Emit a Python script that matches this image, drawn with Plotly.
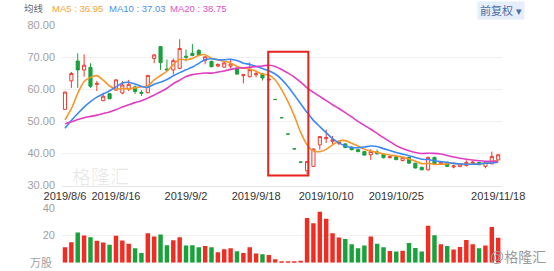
import pandas as pd
import plotly.graph_objects as go

# ---------------- data ----------------
holidays = ["2019-09-13", "2019-10-01", "2019-10-02", "2019-10-03", "2019-10-04", "2019-10-07"]
trade_days = [d for d in pd.bdate_range("2019-08-06", "2019-11-18") if d.strftime("%Y-%m-%d") not in holidays]
dates = [f"{d.year}/{d.month}/{d.day}" for d in trade_days]

open_ = [53.8, 62.7, 68.9, 66.1, 66.9, 61.6, 56.5, 58.7, 59.8, 58.9,
         60.1, 60.8, 59.1, 59.0, 69.7, 73.4, 66.4, 66.1, 66.6, 70.4,
         71.3, 72.2, 69.0, 68.8, 67.3, 67.0, 67.3, 66.6, 64.3, 64.0,
         64.6, 64.9, 63.0, 56.88, 51.19, 46.07, 41.46, 37.32, 34.6, 36.0,
         42.7, 44.6, 43.8, 43.2, 43.0, 42.0, 41.2, 40.6, 39.6, 40.5,
         39.8, 38.7, 39.0, 37.8, 38.8, 37.0, 35.7, 34.9, 38.8, 36.9,
         37.3, 35.8, 35.9, 36.2, 36.9, 37.2, 36.0, 36.8, 38.0]
high = [59.3, 65.5, 71.3, 71.0, 68.2, 62.7, 59.0, 58.9, 63.2, 62.7,
        63.0, 61.3, 59.8, 64.5, 71.0, 73.6, 69.4, 69.7, 75.7, 72.5,
        74.2, 72.6, 70.4, 69.0, 68.2, 68.8, 69.4, 66.8, 64.9, 68.5,
        65.9, 65.2, 63.8, 56.88, 51.19, 46.07, 41.46, 37.32, 37.6, 41.6,
        45.5, 47.5, 45.5, 44.0, 43.2, 42.2, 41.4, 40.8, 41.4, 41.2,
        40.0, 39.4, 39.2, 38.9, 39.0, 37.1, 35.8, 39.0, 39.0, 37.6,
        37.4, 36.5, 36.9, 37.9, 37.7, 37.4, 37.4, 40.6, 39.8]
low = [53.6, 60.5, 60.5, 64.0, 60.5, 59.5, 56.4, 57.0, 59.6, 58.5,
       59.5, 58.6, 58.0, 58.8, 68.2, 66.1, 65.9, 64.7, 66.3, 68.8,
       70.4, 70.4, 67.9, 67.0, 67.0, 66.8, 66.6, 64.6, 61.9, 63.8,
       63.8, 62.8, 62.5, 56.88, 51.19, 46.07, 41.46, 37.32, 33.6, 35.8,
       41.2, 43.3, 42.8, 42.6, 41.7, 41.0, 40.4, 39.4, 38.0, 39.7,
       38.5, 38.5, 37.9, 37.6, 36.9, 35.3, 34.8, 34.7, 36.6, 36.6,
       35.9, 35.4, 35.8, 36.0, 36.7, 36.4, 35.4, 36.6, 37.9]
close = [59.2, 65.0, 66.1, 67.6, 61.0, 61.9, 57.9, 57.1, 63.0, 61.4,
         61.6, 59.4, 58.8, 64.4, 70.8, 68.4, 66.1, 69.0, 72.8, 70.1,
         70.6, 70.7, 70.2, 67.1, 67.8, 68.3, 68.0, 64.8, 64.6, 66.2,
         64.9, 63.6, 63.2, 56.88, 51.19, 46.07, 41.46, 37.32, 37.5, 41.4,
         45.3, 45.0, 44.3, 43.6, 41.9, 41.2, 40.6, 39.5, 40.6, 39.9,
         38.7, 39.0, 38.1, 38.7, 37.0, 35.5, 34.9, 38.8, 36.8, 37.3,
         36.0, 36.1, 36.7, 37.2, 37.3, 36.5, 37.2, 39.1, 39.6]
volume = [11.4, 15.1, 22.2, 20.0, 18.8, 16.1, 14.8, 13.3, 19.8, 16.3,
          13.9, 10.7, 7.2, 21.8, 19.3, 20.7, 12.9, 16.6, 18.8, 12.6,
          12.9, 11.4, 12.4, 11.4, 7.7, 9.9, 10.7, 8.4, 7.2, 11.4,
          6.7, 6.2, 5.7, 2.5, 0.7, 0.5, 0.5, 1.5, 32.9, 29.0,
          37.5, 32.4, 21.8, 18.5, 17.5, 13.6, 10.7, 12.6, 19.4, 13.9,
          11.4, 8.6, 8.2, 8.9, 14.5, 10.8, 8.2, 27.2, 20.3, 13.6,
          12.3, 9.7, 11.6, 16.7, 13.6, 10.7, 12.7, 26.3, 18.4]

# moving-average values for days whose window starts before 2019/8/6
ma5_head = [50.5, 54.0, 58.8, 62.5]
ma10_head = [47.9, 50.3, 52.5, 54.5, 56.2, 57.6, 58.6, 59.6, 60.8]
ma20_head = [49.3, 49.9, 50.6, 51.2, 51.6, 52.0, 52.5, 53.0, 53.7, 54.5,
             55.2, 55.9, 56.5, 57.3, 58.3, 59.3, 60.4, 61.8, 62.9]

tick_dates = ["2019/8/6", "2019/8/16", "2019/9/2", "2019/9/18", "2019/10/10", "2019/10/25", "2019/11/18"]
legend_items = [("均线", "#666666"), ("MA5 : 36.95", "#f7a238"), ("MA10 : 37.03", "#4a8ff2"), ("MA20 : 38.75", "#e04fc6")]
price_ticks = [30, 40, 50, 60, 70, 80]
vol_ticks = [20, 40]
highlight = dict(start="2019/9/20", end="2019/9/30", low=33.1, high=71.8)

# ---------------- helpers ----------------
W, H = 554, 271
ML, MR = 62, 52
PW = W - ML - MR
RED, GREEN = "#ee3a2f", "#1aa03c"
VRED, VGREEN = "#f02d22", "#18a23a"


def px_x(px):
    return (px - ML) / PW


def px_y(py):
    return (H - py) / H


def rolling(vals, n, head):
    out = list(head)
    for i in range(len(head), len(vals)):
        out.append(sum(vals[i - n + 1:i + 1]) / n)
    return out


n = len(close)
idx = list(range(n))


def is_up(i):
    if close[i] > open_[i]:
        return True
    if close[i] < open_[i]:
        return False
    return i == 0 or close[i] >= close[i - 1]


up = [i for i in idx if is_up(i)]
dn = [i for i in idx if not is_up(i)]

fig = go.Figure()


def candle(sel, color, fill):
    return go.Candlestick(
        x=sel,
        open=[open_[i] for i in sel], high=[high[i] for i in sel],
        low=[low[i] for i in sel], close=[close[i] for i in sel],
        increasing=dict(line=dict(color=color, width=1), fillcolor=fill),
        decreasing=dict(line=dict(color=color, width=1), fillcolor=fill),
        whiskerwidth=0, hoverinfo="skip", xaxis="x", yaxis="y")


fig.add_trace(candle(up, RED, "white"))
fig.add_trace(candle(dn, GREEN, GREEN))

for vals, nwin, head, col in [(close, 5, ma5_head, "#f7962a"),
                              (close, 10, ma10_head, "#3c88f5"),
                              (close, 20, ma20_head, "#e03cc4")]:
    fig.add_trace(go.Scatter(x=idx, y=rolling(vals, nwin, head), mode="lines",
                             line=dict(color=col, width=1.6, shape="spline", smoothing=0.8),
                             hoverinfo="skip", xaxis="x", yaxis="y"))

vcolors = [VRED if close[i] >= open_[i] else VGREEN for i in idx]
fig.add_trace(go.Bar(x=idx, y=volume, marker=dict(color=vcolors, line=dict(width=0)),
                     hoverinfo="skip", xaxis="x2", yaxis="y2"))

xr = [-0.47, 68.6]
tick_idx = [dates.index(d) for d in tick_dates]
grid = "#efefef"
fig.update_layout(
    width=W, height=H, margin=dict(l=ML, r=MR, t=0, b=0),
    paper_bgcolor="white", plot_bgcolor="white", showlegend=False, bargap=0.3,
    font=dict(family="Liberation Sans, Noto Sans CJK SC, sans-serif"),
    xaxis=dict(domain=[0, 1], range=xr, anchor="y", tickvals=tick_idx, ticktext=tick_dates,
               showgrid=False, zeroline=False, showline=True, linecolor="#e6e6e6",
               tickfont=dict(size=11, color="#333333"), ticks="", rangeslider=dict(visible=False),
               automargin=False, ticklabelstandoff=0),
    yaxis=dict(domain=[px_y(185.7), px_y(25.3)], range=[29.95, 80.05], tickvals=price_ticks,
               ticktext=[f"{v:.2f}" for v in price_ticks], showgrid=True, gridcolor=grid,
               zeroline=False, tickfont=dict(size=11, color="#a0a0a0"), ticks="",
               automargin=False, ticklabelstandoff=6),
    xaxis2=dict(domain=[0, 1], range=xr, anchor="y2", showticklabels=False, showgrid=False,
                zeroline=False, automargin=False),
    yaxis2=dict(domain=[px_y(262.7), px_y(208.3)], range=[0, 40.1], tickvals=vol_ticks,
                ticktext=[str(v) for v in vol_ticks], showgrid=True, gridcolor=grid, zeroline=False,
                tickfont=dict(size=11, color="#a0a0a0"), ticks="", automargin=False,
                ticklabelstandoff=6),
)

hx0 = dates.index(highlight["start"]) - 0.1
hx1 = dates.index(highlight["end"]) + 0.2
fig.add_shape(type="rect", xref="x", yref="y", x0=hx0, x1=hx1, y0=highlight["low"], y1=highlight["high"],
              line=dict(color="#e8231c", width=2), fillcolor="rgba(0,0,0,0)")

ann = []
lx = [22, 50, 107, 168]
for (txt, col), x in zip(legend_items, lx):
    ann.append(dict(text=txt, x=px_x(x), y=px_y(8.5), xref="paper", yref="paper", xanchor="left",
                    yanchor="middle", showarrow=False, font=dict(size=9.5, color=col)))
ann.append(dict(text="前复权 ▾", x=px_x(501), y=px_y(10), xref="paper", yref="paper", xanchor="center",
                yanchor="middle", showarrow=False, bgcolor="#e5eefa", borderpad=2,
                font=dict(size=11, color="#4c6ea6")))
ann.append(dict(text="万股", x=px_x(54), y=px_y(263), xref="paper", yref="paper", xanchor="right",
                yanchor="middle", showarrow=False, font=dict(size=11, color="#a0a0a0")))
ann.append(dict(text="格隆汇", x=px_x(100), y=px_y(177), xref="paper", yref="paper", xanchor="center",
                yanchor="middle", showarrow=False, font=dict(size=19, color="rgba(0,0,0,0.09)")))
ann.append(dict(text="@格隆汇", x=px_x(548), y=px_y(257), xref="paper", yref="paper", xanchor="right",
                yanchor="middle", showarrow=False, font=dict(size=14, color="#9a9a9a")))
fig.update_layout(annotations=ann)

fig.write_html("out.html")
